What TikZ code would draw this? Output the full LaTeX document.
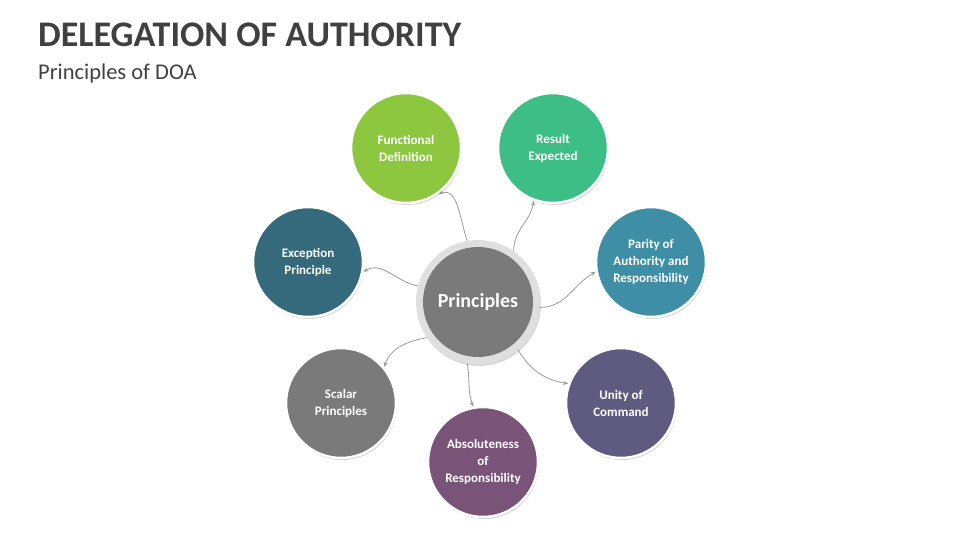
\documentclass[tikz,border=0pt]{standalone}
\usepackage{fontspec}
\setmainfont{Carlito}
\usetikzlibrary{arrows.meta,shadows}
\begin{document}
\begin{tikzpicture}[x=1pt,y=-1pt,
  petal/.style={circle,minimum size=110pt,draw=white,line width=2.5pt,text=white,font=\fontsize{13}{17}\selectfont\bfseries,align=center,inner sep=0pt,drop shadow={shadow xshift=1pt,shadow yshift=-2pt,opacity=0.35}},
  link/.style={draw=gray!80,line width=0.8pt,-{Stealth[length=5pt,width=4pt]}}]
\useasboundingbox (0,0) rectangle (960,540);
\node[anchor=west,inner sep=0pt,font=\fontsize{36}{40}\selectfont\bfseries,text=black!75] (title) at (38,35) {DELEGATION OF AUTHORITY};
\node[anchor=west,inner sep=0pt,font=\fontsize{22.5}{26}\selectfont,text=black!75] (sub) at (38,74) {Principles of DOA};
\node[circle,minimum size=124pt,fill=gray!25,drop shadow={shadow xshift=1pt,shadow yshift=-2pt,opacity=0.3}] (ring) at (478,302) {};
\node[circle,minimum size=110pt,fill=black!52,text=white,font=\fontsize{20}{24}\selectfont\bfseries] (c) at (478,302) {Principles};
\node[petal,fill={rgb,255:red,141;green,198;blue,63}] (f) at (406,148) {Functional\\Definition};
\node[petal,fill={rgb,255:red,61;green,190;blue,134}] (r) at (553,148) {Result\\Expected};
\node[petal,fill={rgb,255:red,62;green,143;blue,166}] (p) at (651,262) {Parity of\\Authority and\\Responsibility};
\node[petal,fill={rgb,255:red,94;green,90;blue,128}] (u) at (621,403) {Unity of\\Command};
\node[petal,fill={rgb,255:red,122;green,84;blue,120}] (a) at (483,462) {Absoluteness\\of\\Responsibility};
\node[petal,fill={rgb,255:red,122;green,122;blue,122}] (s) at (341,403) {Scalar\\Principles};
\node[petal,fill={rgb,255:red,52;green,106;blue,123}] (e) at (308,262) {Exception\\Principle};
\draw[link] (ring.100) to[out=110,in=20] (f.-55);
\draw[link] (ring.55) to[out=90,in=-100] (r.-110);
\draw[link] (ring.-5) to[out=0,in=-150] (p.-170);
\draw[link] (ring.-50) to[out=-60,in=170] (u.160);
\draw[link] (ring.-100) to[out=-80,in=110] (a.100);
\draw[link] (ring.-145) to[out=-170,in=70] (s.40);
\draw[link] (ring.165) to[out=170,in=30] (e.-10);
\end{tikzpicture}
\end{document}
